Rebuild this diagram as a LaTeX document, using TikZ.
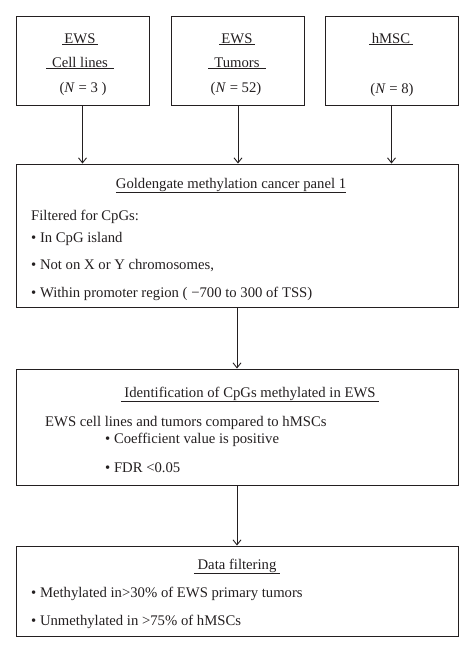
\documentclass[tikz,border=0pt]{standalone}
\usepackage{fontspec}
\setmainfont{Liberation Serif}
\usetikzlibrary{arrows.meta, positioning}
\definecolor{FlowBlack}{HTML}{231F20}
\tikzset{
    % Box styles - all sharp corners
    source/.style={
        rectangle,
        draw=FlowBlack,
        line width=1pt,
        minimum width=133pt,
        minimum height=89pt
    },
    panel/.style={
        rectangle,
        draw=FlowBlack,
        line width=1pt,
        minimum width=442pt
    },
    label/.style={
        font=\fontsize{14.7}{17}\selectfont,
        text=FlowBlack,
        inner sep=0pt
    },
    % Arrow style - straight lines only
    arrow/.style={
        -{Straight Barb[length=5pt,width=8pt]},
        line width=0.9pt,
        draw=FlowBlack
    }
}
\begin{document}
\begin{tikzpicture}[x=1pt, y=-1pt]
    \useasboundingbox (0,0) rectangle (474,654);

    % sources
    \node[source] (cells) at (82.5,60.5) {};
    \node[label, anchor=base] at (80,43) {\underline{\,EWS\,}};
    \node[label, anchor=base] at (80,67) {\underline{\hspace{6pt}Cell lines\hspace{6pt}}};
    \node[label, anchor=base] at (83,92) {(\textit{N} = 3 )};

    \node[source] (tumors) at (238,60.5) {};
    \node[label, anchor=base] at (237,43) {\underline{\,EWS\,}};
    \node[label, anchor=base] at (237,67) {\underline{\hspace{6pt}Tumors\hspace{6pt}}};
    \node[label, anchor=base] at (236,92) {(\textit{N} = 52)};

    \node[source] (msc) at (391.5,60.5) {};
    \node[label, anchor=base] at (391,43) {\underline{\,hMSC\,}};
    \node[label, anchor=base] at (392,93) {(\textit{N} = 8)};

    % panel
    \node[panel, minimum height=143pt] (gold) at (237,235.5) {};
    \node[label, anchor=base] at (231,188) {\underline{Goldengate methylation cancer panel 1}};
    \node[label, anchor=base west] at (31,220) {Filtered for CpGs:};
    \node[label, anchor=base west] at (31,242) {\textbullet\ In CpG island};
    \node[label, anchor=base west] at (31,269) {\textbullet\ Not on X or Y chromosomes,};
    \node[label, anchor=base west] at (31,297) {\textbullet\ Within promoter region ( −700 to 300 of TSS)};

    % methylated in EWS
    \node[panel, minimum height=116pt] (ident) at (237,427) {};
    \node[label, anchor=base] at (250,397) {\underline{\ Identification of CpGs methylated in EWS\ }};
    \node[label, anchor=base west] at (45,426) {EWS cell lines and tumors compared to hMSCs};
    \node[label, anchor=base west] at (105,443) {\textbullet\ Coefficient value is positive};
    \node[label, anchor=base west] at (105,472) {\textbullet\ FDR <0.05};

    % filtering
    \node[panel, minimum height=90pt] (filt) at (237,591) {};
    \node[label, anchor=base] at (237,569) {\underline{\ Data filtering\ }};
    \node[label, anchor=base west] at (31,597) {\textbullet\ Methylated in>30\% of EWS primary tumors};
    \node[label, anchor=base west] at (31,625) {\textbullet\ Unmethylated in >75\% of hMSCs};

    \draw[arrow] (cells.south) -- (cells.south |- gold.north);
    \draw[arrow] (tumors.south) -- (tumors.south |- gold.north);
    \draw[arrow] (msc.south) -- (msc.south |- gold.north);
    \draw[arrow] (gold) -- (ident);
    \draw[arrow] (ident) -- (filt);
\end{tikzpicture}
\end{document}
